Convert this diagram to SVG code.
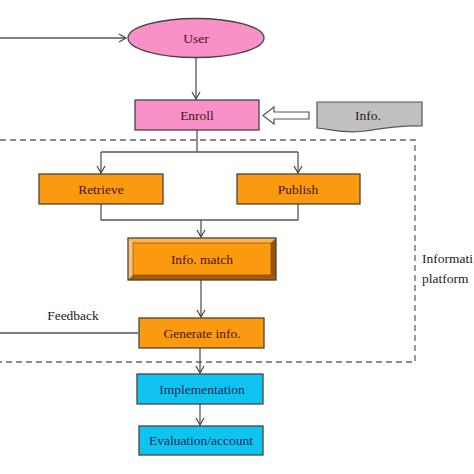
<svg xmlns="http://www.w3.org/2000/svg" width="474" height="474" viewBox="0 0 474 474">
<defs>
<marker id="ah" markerWidth="10" markerHeight="10" refX="8" refY="5" orient="auto" markerUnits="userSpaceOnUse">
<path d="M1,1 L8,5 L1,9" fill="none" stroke="#444" stroke-width="1.2"/>
</marker>
<style>
.ln{fill:none;stroke:#555;stroke-width:1.3}
.t{font-family:"Liberation Serif","Times New Roman","DejaVu Serif",serif;font-size:13.5px;text-anchor:middle}
.lbl{font-family:"Liberation Serif","Times New Roman","DejaVu Serif",serif;font-size:13.5px;fill:#222}
.tr{fill:#4a1212}
.tb{fill:#0d2a5a}
.bx{stroke:#444;stroke-width:1.3}
.pk{fill:#f990c8}
.or{fill:#fb9a0e}
.cy{fill:#10c4f0}
</style>
</defs>
<rect width="474" height="474" fill="#fff"/>
<g id="platform">
<rect x="-10" y="140" width="425" height="222" fill="none" stroke="#666" stroke-width="1.3" stroke-dasharray="6,4"/>
<text x="422" y="263" class="lbl">Informati</text>
<text x="422" y="283" class="lbl">platform</text>
</g>
<g id="connectors">
<path class="ln" d="M138,333 H-2 V38 H126" marker-end="url(#ah)"/>
<path class="ln" d="M196,57 V99" marker-end="url(#ah)"/>
<path class="ln" d="M197,130 V152 M101,152 H298"/>
<path class="ln" d="M101,152 V173" marker-end="url(#ah)"/>
<path class="ln" d="M298,152 V173" marker-end="url(#ah)"/>
<path class="ln" d="M101,204 V220 H298 V204"/>
<path class="ln" d="M201,220 V237" marker-end="url(#ah)"/>
<path class="ln" d="M201,280 V317" marker-end="url(#ah)"/>
<path class="ln" d="M200,348 V373" marker-end="url(#ah)"/>
<path class="ln" d="M200,404 V425" marker-end="url(#ah)"/>
<path d="M263,115.5 L274,107 V112 H309 V119 H274 V124 Z" fill="#fff" stroke="#555" stroke-width="1.2"/>
<text x="73" y="320" class="lbl" text-anchor="middle">Feedback</text>
</g>
<g id="user">
<ellipse cx="196" cy="38" rx="68" ry="19.5" class="pk bx"/>
<text x="196" y="42.5" class="t tr">User</text>
</g>
<g id="enroll">
<rect x="135" y="100" width="124" height="30" class="pk bx"/>
<text x="197" y="119.5" class="t tr">Enroll</text>
</g>
<g id="info">
<path d="M317,102 H422 V126 C400,125 385,128 365,131 C345,134 330,129 317,128 Z" fill="#c0c0c0" stroke="#555" stroke-width="1.2"/>
<text x="368" y="120" class="t" fill="#222">Info.</text>
</g>
<g id="retrieve">
<rect x="39" y="174" width="124" height="30" class="or bx"/>
<text x="101" y="193.5" class="t tr">Retrieve</text>
</g>
<g id="publish">
<rect x="237" y="174" width="123" height="30" class="or bx"/>
<text x="298" y="193.5" class="t tr">Publish</text>
</g>
<g id="infomatch">
<rect x="128" y="238" width="148" height="42" fill="#fb9a0e"/>
<path d="M128,238 L133,243 V275 L128,280 Z" fill="#fcc27a"/>
<path d="M128,238 H276 L271,243 H133 Z" fill="#fdb450"/>
<path d="M276,238 V280 L271,275 V243 Z" fill="#9a5206"/>
<path d="M128,280 L133,275 H271 L276,280 Z" fill="#a85a08"/>
<rect x="133" y="243" width="138" height="32" fill="#fb9a0e" stroke="#7a4200" stroke-width="0.6"/>
<rect x="128" y="238" width="148" height="42" fill="none" stroke="#444" stroke-width="1.3"/>
<text x="202" y="263.5" class="t tr">Info. match</text>
</g>
<g id="generate">
<rect x="139" y="318" width="125" height="30" class="or bx"/>
<text x="202" y="337.5" class="t tr">Generate info.</text>
</g>
<g id="implementation">
<rect x="137" y="374" width="126" height="30" class="cy bx"/>
<text x="202" y="393.5" class="t tb">Implementation</text>
</g>
<g id="evaluation">
<rect x="139" y="426" width="124" height="29" class="cy bx"/>
<text x="201" y="445" class="t tb">Evaluation/account</text>
</g>
</svg>
